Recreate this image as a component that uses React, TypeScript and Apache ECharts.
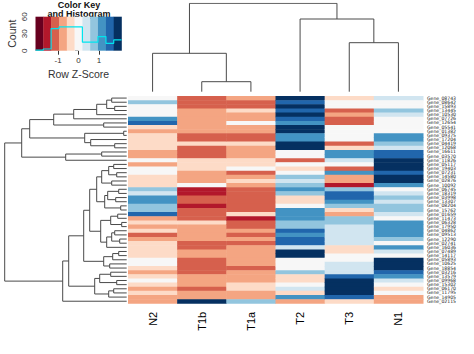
import React, { useEffect, useRef } from "react";
import * as echarts from "echarts";

const COLUMNS = ["N2", "T1b", "T1a", "T2", "T3", "N1"];
const GENES = [
  "Gene_08743", "Gene_08642", "Gene_15893", "Gene_13445", "Gene_10530", "Gene_07726", "Gene_12654", "Gene_05541", "Gene_01382", "Gene_09375",
  "Gene_17204", "Gene_04419", "Gene_12068", "Gene_16611", "Gene_03570", "Gene_11826", "Gene_05117", "Gene_19403", "Gene_07231", "Gene_14580",
  "Gene_02876", "Gene_10092", "Gene_06745", "Gene_18319", "Gene_03998", "Gene_13307", "Gene_08204", "Gene_15762", "Gene_01659", "Gene_11473",
  "Gene_06328", "Gene_17950", "Gene_04862", "Gene_09513", "Gene_12290", "Gene_02741", "Gene_16036", "Gene_07489", "Gene_14117", "Gene_05893",
  "Gene_10625", "Gene_18854", "Gene_03216", "Gene_13579", "Gene_09968", "Gene_15302", "Gene_06170", "Gene_11795", "Gene_14905", "Gene_02115",
];

// row z-scores per column (rows in dendrogram order, top to bottom)
const N2_Z = [0,0.75,0,0,0,1.15,1.5,-0.4,-0.75,-0.4, -0.4,-0.4,-0.4,-0.75,-0.75,0,-0.75,0,0,-0.4, -0.4,-0.4,0.75,0.4,1.15,1.15,0.75,0.75,1.5,-0.75, -0.4,-0.75,-0.4,-1.15,-0.75,-0.4,-0.4,-0.4,-0.4,0, 0,-0.4,-0.75,-0.4,0,-0.4,-0.75,-0.4,-0.75,-0.75];
const T1B_Z = [-1.15,-1.15,-1.15,-0.75,-0.75,-0.75,-0.75,-0.75,-0.75,-1.15, -1.15,-0.4,-1.15,-1.15,-1.15,-0.4,-0.4,-0.4,-0.75,-0.75, -0.75,0,-1.5,-1.5,-1.15,-1.15,-1.5,-1.15,-1.15,-1.15, -0.4,-0.75,-0.75,-0.75,-0.75,-1.15,-1.15,-0.75,-0.75,-1.15, -1.15,-1.15,-1.15,-0.75,-0.75,-0.75,-1.15,-0.75,-0.75,1.9];
const T1A_Z = [-0.75,-1.15,-1.15,-0.4,-0.75,-0.75,0,-0.75,-0.75,-1.15, -1.15,-0.4,-0.75,-0.75,-0.75,-0.4,-0.4,0,-1.15,-0.75, -0.4,-0.75,-1.15,-1.15,-1.15,-1.15,-1.15,-1.15,-0.4,-1.5, -1.15,-1.15,-0.75,-1.15,-0.75,-1.15,-0.75,-0.75,-0.75,-0.75, -0.75,-1.15,-0.75,-0.75,-0.75,-0.4,-0.4,-0.75,-0.75,0.75];
const T2_Z = [1.9,1.5,1.9,1.5,1.9,1.5,1.15,1.9,1.9,1.15, 1.15,1.9,1.9,0,0,-1.15,0,-0.4,0,0.75, 0.4,0.75,1.15,0.75,-0.4,-0.4,0,1.15,1.15,1.15, 0.75,0.75,1.5,1.15,1.5,1.5,0.4,1.9,1.9,0, 0,0,0.75,-0.4,-0.4,0,0.4,-0.4,1.15,-0.75];
const T3_Z = [-0.4,0,0,-1.15,-0.75,-1.15,-1.15,0,0,0, 0,-1.15,-0.4,1.15,1.15,0.4,0,-1.15,1.15,-0.75, -0.75,-1.5,0.75,1.5,1.5,1.15,0.75,-0.4,-0.75,0.75, 0.75,0.4,0.4,0.4,0.4,0.4,-0.4,-0.4,0,0, 0.4,0.4,0.4,1.5,1.9,1.9,1.9,1.9,1.5,-0.4];
const N1_Z = [0.4,0,0,0.75,0.4,0,0,0,0,1.15, 1.15,0.75,0.4,1.5,1.5,1.9,1.9,1.9,1.5,1.9, 1.9,1.15,0,0.4,0.75,0.4,0.75,0.75,0.4,0, 1.15,1.15,1.15,1.15,0.75,0,1.15,0.4,0,1.9, 1.9,1.9,1.5,1.15,0.4,0,-0.4,0,-0.75,-0.75];
const COLUMN_Z = [N2_Z, T1B_Z, T1A_Z, T2_Z, T3_Z, N1_Z];

// colour key breaks, colours and histogram counts
const KEY_BREAKS = [-2.1, -1.72, -1.34, -0.95, -0.57, -0.19, 0.19, 0.57, 0.95, 1.34, 1.72, 2.1];
const KEY_COLORS = ["#67001F", "#B2182B", "#D6604D", "#F4A582", "#FDDBC7", "#F7F7F7", "#D1E5F0", "#92C5DE", "#4393C3", "#2166AC", "#053061"];
const HIST_COUNTS = [1, 3, 39, 42, 42, 42, 15, 15, 25, 13, 19];
const KEY_TICKS = [-1, 0, 1];
const COUNT_TICKS = [0, 30, 60];

// hclust-style merges: negative = leaf (1-based position), positive = earlier merge
const ROW_MERGES = [
  [-1, -2, 1.5], [-3, -4, 1.2], [1, 2, 2.0], [3, -5, 3.0], [4, -6, 5.3],
  [-7, -8, 2.3], [5, 6, 7.3], [-9, -10, 0.3], [-12, -13, 1.2], [-11, 9, 3.6],
  [8, 10, 4.2], [7, 11, 9.7], [-14, -15, 2.5], [13, -16, 6.1], [12, 14, 10.5],
  [-17, -18, 1.3], [-19, -20, 1.0], [16, 17, 1.8], [-21, -22, 1.5], [18, 19, 2.5],
  [-23, -24, 0.8], [-25, -26, 1.1], [21, 22, 1.9], [-27, -28, 0.6], [23, 24, 2.2],
  [20, 25, 3.0], [-29, -30, 0.9], [-31, -32, 0.5], [27, 28, 1.6], [-33, -34, 1.2],
  [-35, -36, 0.7], [30, 31, 1.5], [32, -37, 2.0], [29, 33, 2.6], [26, 34, 3.7],
  [-38, -39, 0.8], [36, -40, 1.4], [-41, -42, 1.7], [37, 38, 2.3], [35, 39, 4.3],
  [-43, -44, 1.6], [-45, -46, 1.0], [41, 42, 2.7], [-47, -48, 1.3], [44, -49, 1.8],
  [43, 45, 3.2], [40, 46, 5.8], [47, -50, 6.4], [15, 48, 12.2],
];
const COL_MERGES = [
  [-2, -3, 10], [-1, 1, 38.4], [-5, -6, 49], [-4, 3, 72.7], [2, 4, 88.4],
];

function dendro(merges: number[][]) {
  const pos: number[] = [];
  const hgt: number[] = [];
  const segs: number[][][] = [];
  const get = (r: number) => (r < 0 ? [-r - 1 + 0.5, 0] : [pos[r - 1], hgt[r - 1]]);
  merges.forEach(([a, b, h]) => {
    const [pa, ha] = get(a);
    const [pb, hb] = get(b);
    pos.push((pa + pb) / 2);
    hgt.push(h);
    segs.push([[pa, ha], [pa, h], [pb, h], [pb, hb]]);
  });
  return { segs, maxH: hgt[hgt.length - 1] };
}

const FONT = "'Liberation Sans', Arial, sans-serif";

export default function App() {
  const ref = useRef<HTMLDivElement>(null);
  useEffect(() => {
    if (!ref.current) return;
    const chart = echarts.init(ref.current, null, { renderer: "svg" });

    const cells: number[][] = [];
    COLUMN_Z.forEach((col, ci) => col.forEach((z, ri) => cells.push([ci, ri, z])));

    const rowD = dendro(ROW_MERGES);
    const colD = dendro(COL_MERGES);

    const hist: number[][] = [];
    HIST_COUNTS.forEach((c, k) => {
      hist.push([KEY_BREAKS[k], c]);
      hist.push([KEY_BREAKS[k + 1], c]);
    });
    const keyMax = COUNT_TICKS[COUNT_TICKS.length - 1];

    const lineStyle = { color: "#4a4a4a", width: 1, opacity: 1 };

    chart.setOption({
      animation: false,
      backgroundColor: "#fff",
      textStyle: { fontFamily: FONT },
      grid: [
        { left: 128, top: 96, width: 295, height: 207.3 },
        { left: 4.7, top: 96, width: 122, height: 207.3 },
        { left: 128, top: 3.3, width: 295, height: 88.4 },
        { left: 35.5, top: 16.7, width: 86, height: 34 },
      ],
      xAxis: [
        {
          type: "category", gridIndex: 0, data: COLUMNS, position: "bottom",
          axisLine: { show: false }, axisTick: { show: false },
          axisLabel: { rotate: 90, fontSize: 11, color: "#000", margin: 8.5, fontFamily: FONT },
        },
        { type: "value", gridIndex: 1, min: 0, max: rowD.maxH, inverse: true, show: false },
        { type: "value", gridIndex: 2, min: 0, max: COLUMNS.length, show: false },
        {
          type: "value", gridIndex: 3, min: KEY_BREAKS[0], max: KEY_BREAKS[KEY_BREAKS.length - 1],
          splitLine: { show: false },
          axisLine: { show: false },
          axisTick: { show: true, customValues: KEY_TICKS, length: 4, lineStyle: { color: "#333" } },
          axisLabel: { customValues: KEY_TICKS, fontSize: 8, color: "#333", margin: 6, fontFamily: FONT },
          name: "Row Z-Score", nameLocation: "middle", nameGap: 18,
          nameTextStyle: { fontSize: 10.5, color: "#333", fontFamily: FONT },
        },
      ],
      yAxis: [
        {
          type: "category", gridIndex: 0, data: GENES, inverse: true, position: "right",
          axisLine: { show: false }, axisTick: { show: false },
          axisLabel: { interval: 0, fontSize: 4.6, color: "#222", margin: 4, fontFamily: "'DejaVu Sans', sans-serif" },
        },
        { type: "value", gridIndex: 1, min: 0, max: GENES.length, inverse: true, show: false },
        { type: "value", gridIndex: 2, min: 0, max: colD.maxH, show: false },
        {
          type: "value", gridIndex: 3, min: 0, max: keyMax,
          splitLine: { show: false },
          axisLine: { show: false },
          axisTick: { show: true, customValues: COUNT_TICKS, length: 3.5, lineStyle: { color: "#333" } },
          axisLabel: { customValues: COUNT_TICKS, rotate: 90, fontSize: 8, color: "#333", margin: 7, fontFamily: FONT },
          name: "Count", nameLocation: "middle", nameGap: 18, nameRotate: 90,
          nameTextStyle: { fontSize: 10.5, color: "#333", fontFamily: FONT },
        },
      ],
      visualMap: {
        type: "piecewise", show: false, seriesIndex: 0, dimension: 2,
        pieces: KEY_COLORS.map((c, k) => ({ gte: KEY_BREAKS[k], lt: KEY_BREAKS[k + 1], color: c })),
      },
      graphic: [
        {
          type: "text", x: 79, y: 0,
          style: {
            text: "Color Key\nand Histogram", textAlign: "center", textVerticalAlign: "top",
            font: `bold 9px ${FONT}`, lineHeight: 9.5, fill: "#111",
          },
        },
      ],
      series: [
        {
          type: "custom", xAxisIndex: 0, yAxisIndex: 0, data: cells, silent: true,
          renderItem: (params: any, api: any) => {
            const c = api.coord([api.value(0), api.value(1)]);
            const s = api.size([1, 1]);
            return {
              type: "rect",
              shape: { x: c[0] - s[0] / 2, y: c[1] - s[1] / 2, width: s[0] + 0.5, height: s[1] + 0.5 },
              style: { fill: api.visual("color") },
            };
          },
        },
        {
          type: "lines", coordinateSystem: "cartesian2d", xAxisIndex: 1, yAxisIndex: 1, polyline: true,
          silent: true, lineStyle,
          data: rowD.segs.map((s) => ({ coords: s.map(([p, h]) => [h, p]) })),
        },
        {
          type: "lines", coordinateSystem: "cartesian2d", xAxisIndex: 2, yAxisIndex: 2, polyline: true,
          silent: true, lineStyle,
          data: colD.segs.map((s) => ({ coords: s.map(([p, h]) => [p, h]) })),
        },
        {
          type: "custom", xAxisIndex: 3, yAxisIndex: 3, silent: true,
          data: KEY_COLORS.map((c, k) => [KEY_BREAKS[k], KEY_BREAKS[k + 1], k]),
          renderItem: (params: any, api: any) => {
            const p0 = api.coord([api.value(0), keyMax]);
            const p1 = api.coord([api.value(1), 0]);
            return {
              type: "rect",
              shape: { x: p0[0], y: p0[1], width: p1[0] - p0[0] + 0.3, height: p1[1] - p0[1] },
              style: { fill: KEY_COLORS[api.value(2)] },
            };
          },
        },
        {
          type: "line", xAxisIndex: 3, yAxisIndex: 3, data: hist, showSymbol: false, silent: true,
          lineStyle: { color: "#00E5EE", width: 1.2 },
        },
      ],
    });
    return () => chart.dispose();
  }, []);
  return <div ref={ref} style={{ position: "absolute", left: 0, top: 0, width: 474, height: 354 }} />;
}
